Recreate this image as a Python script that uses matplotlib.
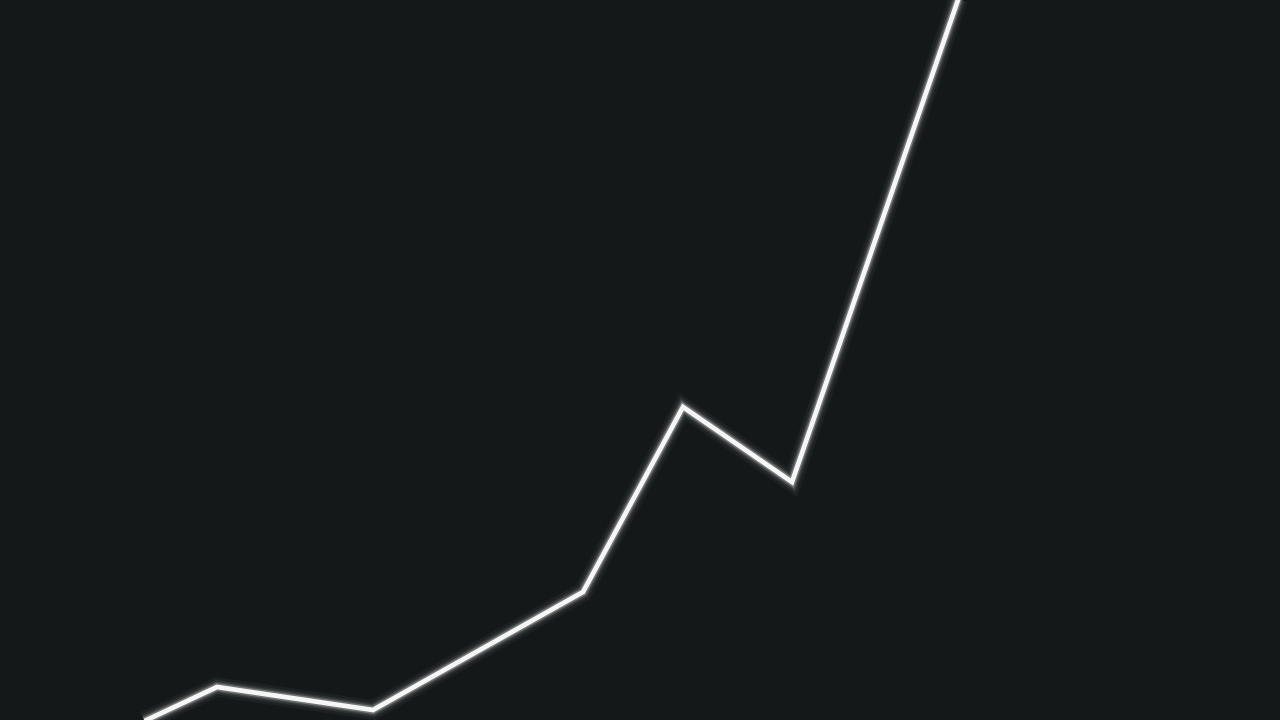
import matplotlib; matplotlib.use("Agg")
import matplotlib.pyplot as plt

# line vertices (chart units; the line runs off the bottom and top edges)
x_vals = [70, 217, 373, 583, 683, 792, 990]
y_vals = [-36, 33, 10, 128, 313, 238, 813]

BG = "#141818"

fig = plt.figure(figsize=(12.8, 7.2), dpi=100, facecolor=BG)
ax = fig.add_axes([0, 0, 1, 1])
ax.set_facecolor(BG)

# soft glow underneath
for lw, a in [(14, 0.04), (10, 0.07), (7.5, 0.12), (5.5, 0.25)]:
    ax.plot(x_vals, y_vals, color="white", lw=lw, alpha=a,
            solid_joinstyle="miter", solid_capstyle="butt")
ax.plot(x_vals, y_vals, color="#f6f6f6", lw=3.4,
        solid_joinstyle="miter", solid_capstyle="butt")

ax.set_xlim(0, 1280)
ax.set_ylim(0, 720)
ax.axis("off")

plt.savefig("out.png", dpi=100, facecolor=BG)
plt.close()
